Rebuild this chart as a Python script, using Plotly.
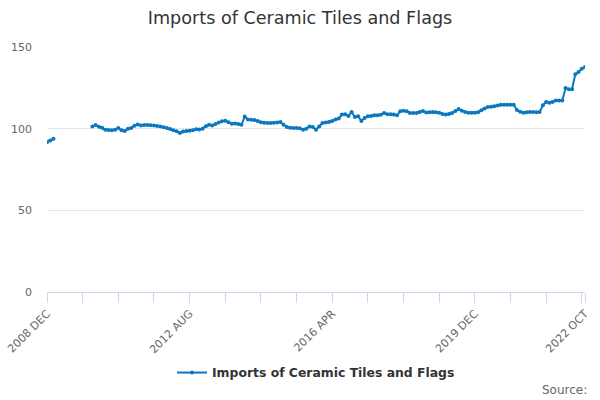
import pandas as pd
import plotly.graph_objects as go

title = "Imports of Ceramic Tiles and Flags"
series_name = "Imports of Ceramic Tiles and Flags"

months = [d.strftime("%Y %b").upper() for d in pd.date_range("2008-12-01", "2022-10-01", freq="MS")]

values = [
    91.8, 92.8, 93.8, None, None, None, None, None, None, None,
    None, None, None, None, 101.4, 102.2, 101.2, 100.5, 99.4, 99.2,
    99.0, 99.4, 100.4, 99.0, 98.6, 100.0, 100.4, 101.8, 102.6, 101.9,
    102.3, 102.2, 102.1, 101.9, 101.7, 101.4, 100.9, 100.4, 99.8, 99.0,
    98.4, 97.3, 98.2, 98.6, 98.8, 99.0, 99.6, 99.5, 100.0, 101.5,
    102.4, 102.0, 102.8, 103.8, 104.6, 104.8, 104.0, 103.0, 103.2, 102.8,
    102.4, 107.5, 105.6, 105.5, 105.3, 104.7, 104.0, 103.6, 103.5, 103.4,
    103.6, 103.8, 104.1, 102.4, 101.0, 100.6, 100.4, 100.4, 100.2, 99.4,
    100.0, 101.4, 101.0, 99.4, 101.4, 103.5, 103.8, 104.1, 104.7, 105.6,
    106.3, 108.6, 108.8, 107.8, 110.2, 107.1, 107.6, 104.7, 106.6, 107.6,
    107.8, 108.2, 108.2, 108.5, 109.6, 108.9, 108.8, 108.6, 108.2, 110.6,
    111.0, 110.6, 109.6, 109.6, 109.6, 110.2, 110.8, 109.9, 110.0, 110.2,
    110.0, 109.8, 109.0, 108.6, 109.0, 109.6, 110.8, 112.0, 111.0, 110.2,
    109.8, 109.8, 109.8, 110.1, 111.2, 112.4, 113.2, 113.4, 113.7, 114.2,
    114.7, 114.6, 114.7, 114.7, 114.6, 111.4, 110.3, 109.8, 110.1, 110.2,
    110.2, 110.1, 110.2, 114.3, 116.3, 115.9, 116.4, 117.3, 117.3, 117.3,
    124.9, 124.1, 124.1, 133.3, 134.7, 136.7, 137.8,
]

tick_positions = [months[i] for i in range(0, len(months), 11)] + [months[-1]]
labelled = {months[0], months[44], months[88], months[132], months[-1]}
tick_labels = [m if m in labelled else "" for m in tick_positions]

y_ticks = [0, 50, 100, 150]

color = "#0a77c0"
font = "DejaVu Sans"

fig = go.Figure()
fig.add_trace(go.Scatter(
    x=months, y=values, name=series_name, mode="lines+markers",
    line=dict(color=color, width=2), marker=dict(color=color, size=4),
    connectgaps=False, showlegend=True,
))

fig.update_layout(
    width=600, height=400,
    margin=dict(l=47, r=15, t=47, b=108, autoexpand=False),
    paper_bgcolor="white", plot_bgcolor="white",
    font=dict(family=font, color="#666666", size=11),
    title=dict(text=title, x=0.5, xanchor="center", xref="container", yref="container",
               y=1 - 18 / 400, yanchor="middle", automargin=False,
               font=dict(family=font, size=17.6, color="#333333")),
    showlegend=True,
    legend=dict(orientation="h", x=0.5, xanchor="center", y=(292 - 373) / 245, yanchor="middle",
                font=dict(family=font, size=12.4, color="#333333", weight="bold"),
                itemwidth=30),
    xaxis=dict(
        type="category", categoryorder="array", categoryarray=months,
        range=[0, len(months) - 1], automargin=False,
        tickmode="array", tickvals=tick_positions, ticktext=tick_labels,
        tickangle=-45, ticks="outside", ticklen=10, tickcolor="#ccd6eb", tickwidth=1,
        showline=True, linecolor="#ccd6eb", linewidth=1,
        showgrid=False, zeroline=False,
        tickfont=dict(family=font, size=11, color="#666666"),
    ),
    yaxis=dict(
        range=[0, 150], tickmode="array", tickvals=y_ticks, automargin=False,
        showgrid=True, gridcolor="#e6e6e6", zeroline=False, showline=False,
        ticks="", ticklabelstandoff=14,
        tickfont=dict(family=font, size=11, color="#666666"),
    ),
    annotations=[dict(text="Source:", xref="paper", yref="paper", x=(589 - 47) / 538,
                      y=(292 - 390) / 245, xanchor="right", yanchor="middle", showarrow=False,
                      font=dict(family=font, size=12, color="#666666"))],
)

fig.write_html(
    "out.html",
    config={"displayModeBar": False},
    post_script="document.body.style.margin='0';document.body.style.padding='0';document.body.style.overflow='hidden';",
)
